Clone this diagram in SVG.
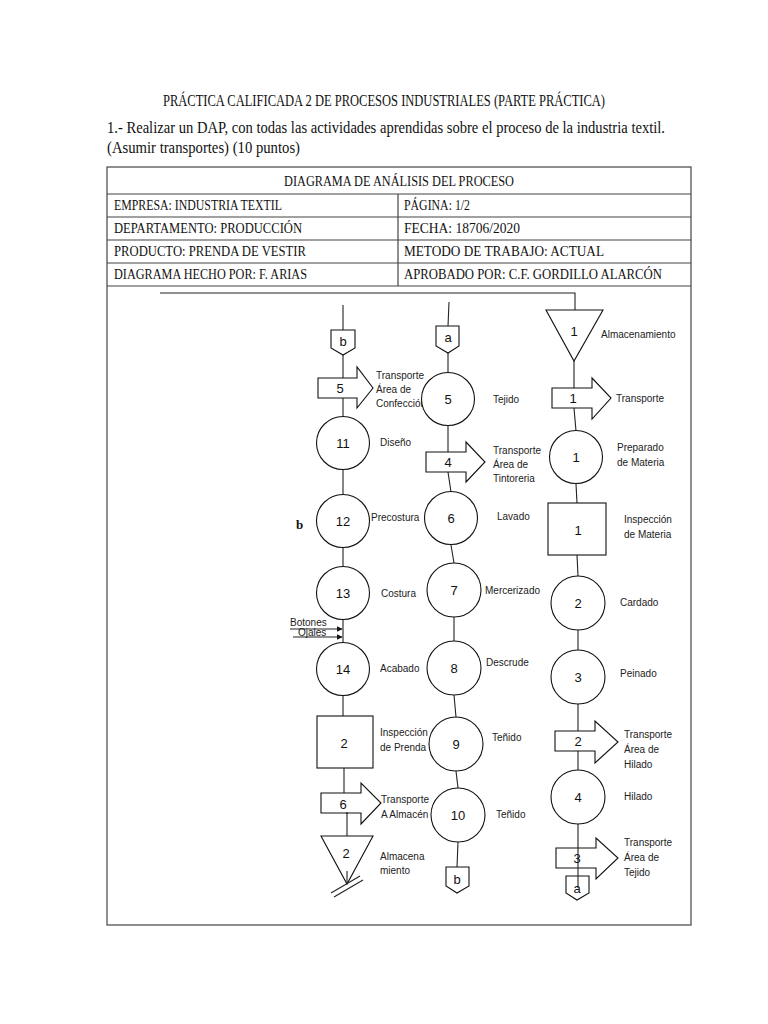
<svg xmlns="http://www.w3.org/2000/svg" width="768" height="1024" viewBox="0 0 768 1024">
<defs>
<style>
.hd{font-family:"Liberation Serif","DejaVu Serif",serif;fill:#111}
.tb{font-family:"Liberation Serif","DejaVu Serif",serif;font-size:14px;fill:#111}
.lb{font-family:"Liberation Sans","DejaVu Sans",sans-serif;font-size:10px;fill:#222}
.nm{font-family:"Liberation Sans","DejaVu Sans",sans-serif;font-size:13px;fill:#111;text-anchor:middle}
.sh{fill:#fff;stroke:#111;stroke-width:1.1}
.ln{fill:none;stroke:#222;stroke-width:1.1}
.grid{fill:none;stroke:#444;stroke-width:1.2}
</style>
<marker id="ah" viewBox="0 0 10 10" refX="9" refY="5" markerWidth="5" markerHeight="5" orient="auto">
<path d="M0,0 L10,5 L0,10 Z" fill="#111"/>
</marker>
</defs>
<rect width="768" height="1024" fill="#fff"/>

<g id="header">
<text class="hd" x="163" y="106" font-size="16" textLength="442" lengthAdjust="spacingAndGlyphs">PRÁCTICA CALIFICADA 2 DE PROCESOS INDUSTRIALES (PARTE PRÁCTICA)</text>
<text class="hd" x="107" y="133" font-size="16" textLength="558" lengthAdjust="spacingAndGlyphs">1.- Realizar un DAP, con todas las actividades aprendidas sobre el proceso de la industria textil.</text>
<text class="hd" x="107" y="153" font-size="16" textLength="193" lengthAdjust="spacingAndGlyphs">(Asumir transportes) (10 puntos)</text>
</g>

<g id="table">
<rect class="grid" x="107" y="167" width="584" height="758"/>
<line class="grid" x1="107" y1="194" x2="691" y2="194"/>
<line class="grid" x1="107" y1="217" x2="691" y2="217"/>
<line class="grid" x1="107" y1="240" x2="691" y2="240"/>
<line class="grid" x1="107" y1="263" x2="691" y2="263"/>
<line class="grid" x1="107" y1="286" x2="691" y2="286"/>
<line class="grid" x1="398" y1="194" x2="398" y2="286"/>
<text class="tb" x="284" y="186" textLength="230" lengthAdjust="spacingAndGlyphs">DIAGRAMA DE ANÁLISIS DEL PROCESO</text>
<text class="tb" x="114" y="210" textLength="168" lengthAdjust="spacingAndGlyphs">EMPRESA: INDUSTRIA TEXTIL</text>
<text class="tb" x="114" y="233" textLength="188" lengthAdjust="spacingAndGlyphs">DEPARTAMENTO: PRODUCCIÓN</text>
<text class="tb" x="114" y="256" textLength="192" lengthAdjust="spacingAndGlyphs">PRODUCTO: PRENDA DE VESTIR</text>
<text class="tb" x="114" y="279" textLength="193" lengthAdjust="spacingAndGlyphs">DIAGRAMA HECHO POR: F. ARIAS</text>
<text class="tb" x="404" y="210" textLength="66" lengthAdjust="spacingAndGlyphs">PÁGINA: 1/2</text>
<text class="tb" x="404" y="233" textLength="116" lengthAdjust="spacingAndGlyphs">FECHA: 18706/2020</text>
<text class="tb" x="404" y="256" textLength="200" lengthAdjust="spacingAndGlyphs">METODO DE TRABAJO: ACTUAL</text>
<text class="tb" x="404" y="279" textLength="258" lengthAdjust="spacingAndGlyphs">APROBADO POR: C.F. GORDILLO ALARCÓN</text>
</g>

<g id="connectors">
<polyline class="ln" stroke="#555" points="160,293 575,293 575,310"/>
<line class="ln" x1="343" y1="305" x2="343" y2="716"/>
<line class="ln" x1="344" y1="768" x2="344" y2="793"/>
<line class="ln" x1="347" y1="812" x2="347" y2="836"/>
<polyline class="ln" points="449,302 448,326"/>
<polyline class="ln" points="448,353 448,373"/>
<polyline class="ln" points="448,426 448,452"/>
<polyline class="ln" points="448,472 451,492"/>
<polyline class="ln" points="451,545 454,563"/>
<polyline class="ln" points="454,617 454,641"/>
<polyline class="ln" points="454,695 456,717"/>
<polyline class="ln" points="456,771 458,788"/>
<polyline class="ln" points="458,842 457,867"/>
<polyline class="ln" points="574,361 574,388"/>
<polyline class="ln" points="574,408 576,431"/>
<polyline class="ln" points="576,484 577,503"/>
<polyline class="ln" points="577,555 578,576"/>
<polyline class="ln" points="578,630 578,650"/>
<polyline class="ln" points="578,704 578,731"/>
<polyline class="ln" points="578,751 578,770"/>
<polyline class="ln" points="578,824 578,848"/>
<line class="ln" x1="290" y1="629" x2="342" y2="629" marker-end="url(#ah)"/>
<line class="ln" x1="293" y1="637" x2="342" y2="637" marker-end="url(#ah)"/>
</g>

<!-- Left column -->
<g id="conn-b-top">
<path class="sh" d="M331,330 H355 V348 L343,355 L331,348 Z"/>
<text class="nm" x="343" y="346" font-size="12">b</text>
</g>
<g id="transporte-5">
<path class="sh" d="M318,378 H357 V367 L373,388 L357,408 V398 H318 Z"/>
<text class="nm" x="340" y="393">5</text>
<text class="lb" x="376" y="379">Transporte</text>
<text class="lb" x="376" y="393">Área de</text>
<text class="lb" x="376" y="407">Confección</text>
</g>
<g id="op-11">
<circle class="sh" cx="343" cy="443" r="26.5"/>
<text class="nm" x="343" y="448">11</text>
<text class="lb" x="380" y="446">Diseño</text>
</g>
<g id="op-12">
<circle class="sh" cx="343" cy="521" r="26.5"/>
<text class="nm" x="343" y="526">12</text>
<text class="lb" x="371" y="521">Precostura</text>
<text class="hd" x="296" y="529" font-size="13" font-weight="bold">b</text>
</g>
<g id="op-13">
<circle class="sh" cx="343" cy="593" r="26.5"/>
<text class="nm" x="343" y="598">13</text>
<text class="lb" x="381" y="597">Costura</text>
</g>
<g id="entradas">
<text class="lb" x="290" y="626" font-size="8.5">Botones</text>
<text class="lb" x="298" y="636" font-size="8.5">Ojales</text>
</g>
<g id="op-14">
<circle class="sh" cx="343" cy="669" r="26.5"/>
<text class="nm" x="343" y="674">14</text>
<text class="lb" x="380" y="672">Acabado</text>
</g>
<g id="insp-2">
<rect class="sh" x="317" y="716" width="56" height="52"/>
<text class="nm" x="344" y="748">2</text>
<text class="lb" x="380" y="736">Inspección</text>
<text class="lb" x="380" y="751">de Prenda</text>
</g>
<g id="transporte-6">
<path class="sh" d="M321,793 H361 V783 L381,803 L361,824 V813 H321 Z"/>
<line class="ln" x1="347" y1="812" x2="347" y2="814"/>
<text class="nm" x="343" y="809">6</text>
<text class="lb" x="381" y="803">Transporte</text>
<text class="lb" x="381" y="818">A Almacén</text>
</g>
<g id="almacen-2">
<path class="sh" d="M321,836 H373 L347,884 Z"/>
<text class="nm" x="346" y="858">2</text>
<line class="ln" x1="347" y1="871" x2="347" y2="884"/>
<line class="ln" x1="331" y1="893" x2="360" y2="876"/>
<line class="ln" x1="334" y1="897" x2="363" y2="880"/>
<text class="lb" x="380" y="860">Almacena</text>
<text class="lb" x="380" y="874">miento</text>
</g>

<!-- Middle column -->
<g id="conn-a-top">
<path class="sh" d="M436,326 H459 V346 L448,353 L436,346 Z"/>
<text class="nm" x="448" y="342" font-size="12">a</text>
</g>
<g id="op-5">
<circle class="sh" cx="448" cy="399" r="26.5"/>
<text class="nm" x="448" y="404">5</text>
<text class="lb" x="493" y="403">Tejido</text>
</g>
<g id="transporte-4">
<path class="sh" d="M426,452 H466 V442 L485,462 L466,482 V472 H426 Z"/>
<text class="nm" x="448" y="467">4</text>
<text class="lb" x="493" y="454">Transporte</text>
<text class="lb" x="493" y="468">Área de</text>
<text class="lb" x="493" y="482">Tintoreria</text>
</g>
<g id="op-6">
<circle class="sh" cx="451" cy="518" r="26.5"/>
<text class="nm" x="451" y="523">6</text>
<text class="lb" x="497" y="520">Lavado</text>
</g>
<g id="op-7">
<circle class="sh" cx="454" cy="590" r="27"/>
<text class="nm" x="454" y="595">7</text>
<text class="lb" x="485" y="594">Mercerizado</text>
</g>
<g id="op-8">
<circle class="sh" cx="454" cy="668" r="27"/>
<text class="nm" x="454" y="673">8</text>
<text class="lb" x="486" y="666">Descrude</text>
</g>
<g id="op-9">
<circle class="sh" cx="456" cy="744" r="27"/>
<text class="nm" x="456" y="749">9</text>
<text class="lb" x="492" y="741">Teñido</text>
</g>
<g id="op-10">
<circle class="sh" cx="458" cy="815" r="27"/>
<text class="nm" x="458" y="820">10</text>
<text class="lb" x="496" y="818">Teñido</text>
</g>
<g id="conn-b-bottom">
<path class="sh" d="M446,867 H469 V886 L457,893 L446,886 Z"/>
<text class="nm" x="457" y="884" font-size="12">b</text>
</g>

<!-- Right column -->
<g id="almacen-1">
<path class="sh" d="M546,310 H603 L574,361 Z"/>
<text class="nm" x="574" y="336">1</text>
<text class="lb" x="601" y="338">Almacenamiento</text>
</g>
<g id="transporte-1">
<path class="sh" d="M552,388 H592 V378 L611,398 L592,419 V408 H552 Z"/>
<text class="nm" x="573" y="403">1</text>
<text class="lb" x="616" y="402">Transporte</text>
</g>
<g id="op-1">
<circle class="sh" cx="576" cy="457" r="26.5"/>
<text class="nm" x="576" y="462">1</text>
<text class="lb" x="617" y="451">Preparado</text>
<text class="lb" x="617" y="466">de Materia</text>
</g>
<g id="insp-1">
<rect class="sh" x="548" y="503" width="58" height="52"/>
<text class="nm" x="578" y="535">1</text>
<text class="lb" x="624" y="523">Inspección</text>
<text class="lb" x="624" y="538">de Materia</text>
</g>
<g id="op-2">
<circle class="sh" cx="578" cy="603" r="27"/>
<text class="nm" x="578" y="608">2</text>
<text class="lb" x="620" y="606">Cardado</text>
</g>
<g id="op-3">
<circle class="sh" cx="578" cy="677" r="27"/>
<text class="nm" x="578" y="682">3</text>
<text class="lb" x="620" y="677">Peinado</text>
</g>
<g id="transporte-2">
<path class="sh" d="M555,731 H595 V721 L618,742 L595,763 V751 H555 Z"/>
<text class="nm" x="578" y="746">2</text>
<text class="lb" x="624" y="738">Transporte</text>
<text class="lb" x="624" y="753">Área de</text>
<text class="lb" x="624" y="768">Hilado</text>
</g>
<g id="op-4">
<circle class="sh" cx="578" cy="797" r="27"/>
<text class="nm" x="578" y="802">4</text>
<text class="lb" x="624" y="800">Hilado</text>
</g>
<g id="transporte-3">
<path class="sh" d="M556,848 H596 V838 L618,858 L596,879 V868 H556 Z"/>
<text class="nm" x="577" y="863">3</text>
<text class="lb" x="624" y="846">Transporte</text>
<text class="lb" x="624" y="861">Área de</text>
<text class="lb" x="624" y="876">Tejido</text>
</g>
<g id="conn-a-bottom">
<path class="sh" d="M566,876 H589 V893 L577,900 L566,893 Z"/>
<text class="nm" x="577" y="893" font-size="12">a</text>
<line class="ln" x1="578" y1="848" x2="578" y2="888"/>
</g>
</svg>
